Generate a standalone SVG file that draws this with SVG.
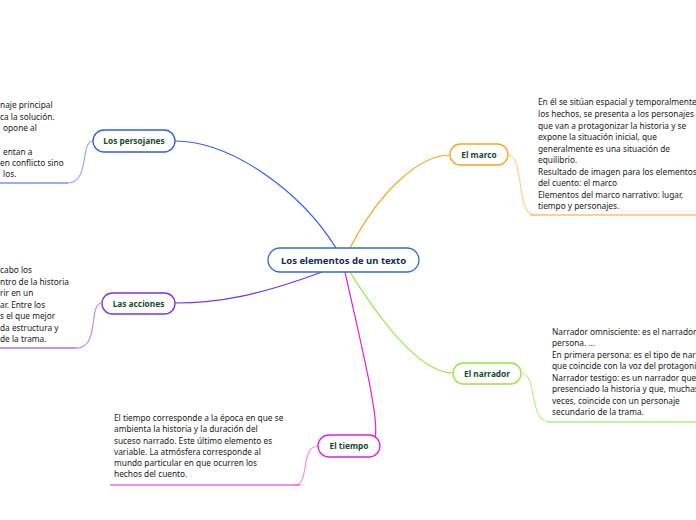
<svg xmlns="http://www.w3.org/2000/svg" width="696" height="520" viewBox="0 0 696 520">
<style>
text{font-family:"Noto Sans","Open Sans",sans-serif;font-size:8.3px;fill:#1a1a1a}
.n{font-weight:bold;fill:#174a2e;text-anchor:middle}
.box{fill:#fff;stroke-width:1.3}
.c{fill:none;stroke-width:1.2}
</style>
<rect width="696" height="520" fill="#fff"/>
<g id="connectors">
<path class="c" stroke="#2a5ef0" d="M336 248 C300 190 230 141 175 141"/>
<path class="c" stroke="#7b2ff0" d="M322 272 C260 295 220 303 175 303"/>
<path class="c" stroke="#f8a51c" d="M350 248 C380 190 420 155 450 155"/>
<path class="c" stroke="#8fe83a" d="M350 272 C380 320 420 373 453 373"/>
<path class="c" stroke="#e020e0" d="M345 272 C360 340 380 420 375 437"/>
<path class="c" stroke="#8fb0f8" d="M68 183 C90 183 80 141 93 141"/>
<path class="c" stroke="#2a5ef0" stroke-width="1.5" d="M0 183 H68"/>
<path class="c" stroke="#b990f8" d="M77 348 C100 348 88 303 102 303"/>
<path class="c" stroke="#7b2ff0" stroke-width="1.5" d="M0 348 H77"/>
<path class="c" stroke="#fcd090" d="M508 155 C525 155 515 215 535 215"/>
<path class="c" stroke="#f8a51c" stroke-width="1.5" d="M530 215 H696"/>
<path class="c" stroke="#c0f090" d="M521 373 C538 373 528 422 550 422"/>
<path class="c" stroke="#8fe83a" stroke-width="1.5" d="M548 422 H696"/>
<path class="c" stroke="#f090f0" d="M318 446 C300 446 310 485 295 485"/>
<path class="c" stroke="#e020e0" stroke-width="1.5" d="M110 485 H300"/>
</g>
<g id="center"><rect class="box" x="268" y="248" width="151" height="24" rx="12" stroke="#2f6dd6"/><text class="n" x="343.5" y="264" style="font-size:9.5px;fill:#102a5a">Los elementos de un texto</text></g>
<g id="persojanes"><rect class="box" x="93" y="130" width="82" height="22" rx="11" stroke="#2a5ef0"/><text class="n" x="134" y="144">Los persojanes</text>
<text x="0" y="108">naje principal</text><text x="0" y="119.5">ca la solución.</text><text x="3" y="130.5">opone al</text><text x="3" y="154.5">entan a</text><text x="0" y="165.5">en conflicto sino</text><text x="3" y="176.5">los.</text></g>
<g id="acciones"><rect class="box" x="102" y="293" width="73" height="21" rx="10.5" stroke="#7b2ff0"/><text class="n" x="138.5" y="306.5">Las acciones</text>
<text x="0" y="273">cabo los</text><text x="0" y="285">ntro de la historia</text><text x="0" y="296">rir en un</text><text x="0" y="308">ar. Entre los</text><text x="0" y="319">s el que mejor</text><text x="0" y="331">da estructura y</text><text x="0" y="342">de la trama.</text></g>
<g id="marco"><rect class="box" x="450" y="144" width="58" height="21" rx="10.5" stroke="#f8a51c"/><text class="n" x="479" y="157.5">El marco</text>
<text x="538" y="105">En él se sitúan espacial y temporalmente</text><text x="538" y="117">los hechos, se presenta a los personajes</text><text x="538" y="129">que van a protagonizar la historia y se</text><text x="538" y="140">expone la situación inicial, que</text><text x="538" y="152">generalmente es una situación de</text><text x="538" y="163">equilibrio.</text><text x="538" y="175">Resultado de imagen para los elementos</text><text x="538" y="186">del cuento: el marco</text><text x="538" y="198">Elementos del marco narrativo: lugar,</text><text x="538" y="209">tiempo y personajes.</text></g>
<g id="narrador"><rect class="box" x="453" y="363" width="68" height="21" rx="10.5" stroke="#8fe83a"/><text class="n" x="487" y="376.5">El narrador</text>
<text x="552" y="335">Narrador omnisciente: es el narrador en tercera</text><text x="552" y="346">persona. ...</text><text x="552" y="358">En primera persona: es el tipo de narrador</text><text x="552" y="369">que coincide con la voz del protagonista.</text><text x="552" y="381">Narrador testigo: es un narrador que ha</text><text x="552" y="392">presenciado la historia y que, muchas</text><text x="552" y="404">veces, coincide con un personaje</text><text x="552" y="415">secundario de la trama.</text></g>
<g id="tiempo"><rect class="box" x="318" y="435" width="62" height="22" rx="11" stroke="#e020e0"/><text class="n" x="349" y="449">El tiempo</text>
<text x="114" y="421">El tiempo corresponde a la época en que se</text><text x="114" y="432">ambienta la historia y la duración del</text><text x="114" y="443.5">suceso narrado. Este último elemento es</text><text x="114" y="454.5">variable. La atmósfera corresponde al</text><text x="114" y="466">mundo particular en que ocurren los</text><text x="114" y="477">hechos del cuento.</text></g>
</svg>
